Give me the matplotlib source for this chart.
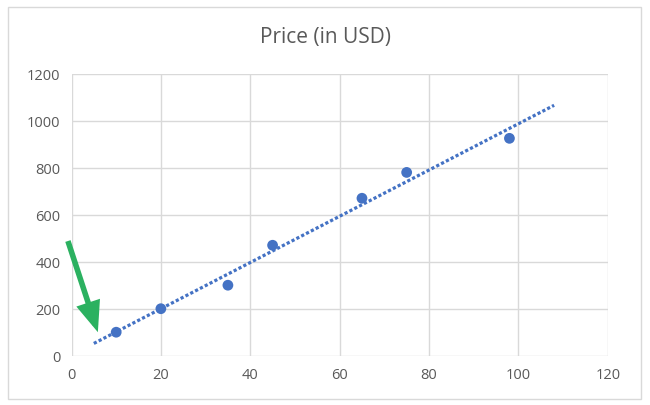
import numpy as np
import matplotlib
matplotlib.use("Agg")
import matplotlib.pyplot as plt
from matplotlib.patches import Rectangle

# data
x_vals = [10, 20, 35, 45, 65, 75, 98]
prices = [100, 200, 300, 470, 670, 780, 925]
x_ticks = [0, 20, 40, 60, 80, 100, 120]
y_ticks = [0, 200, 400, 600, 800, 1000, 1200]
title = "Price (in USD)"

blue = "#4472C4"
grey_txt = "#595959"
grid_col = "#D9D9D9"

plt.rcParams['font.family'] = ['Open Sans', 'DejaVu Sans']

fig = plt.figure(figsize=(6.5, 4.06), dpi=100)
ax = fig.add_axes([0.110, 0.1214, 0.825, 0.6946])

# linear trendline, backward 5 / forward 10 like the Excel one
slope, icpt = np.polyfit(x_vals, prices, 1)
tx = np.array([min(x_vals) - 5, max(x_vals) + 10])
ax.plot(tx, slope * tx + icpt, color=blue, lw=2.3, linestyle=(0, (1, 0.7)), zorder=2)

ax.scatter(x_vals, prices, s=60, color=blue, zorder=3, edgecolors="none")

ax.set_xlim(0, 120)
ax.set_ylim(0, 1200)
ax.set_xticks(x_ticks)
ax.set_yticks(y_ticks)
ax.tick_params(length=0, labelsize=10.5, labelcolor=grey_txt, pad=8)
ax.grid(True, color=grid_col, lw=1)
ax.set_axisbelow(True)
for s in ax.spines.values():
    s.set_visible(False)

fig.text(0.5, 0.908, title, ha="center", va="center", fontsize=15, color=grey_txt)

# green arrow pointing at the start of the trendline
ax.annotate("", xy=(5.9, 100), xytext=(-0.8, 488), annotation_clip=False,
            arrowprops=dict(arrowstyle="-|>,head_width=0.6,head_length=1.5",
                            color="#2BB160", lw=4, shrinkA=0, shrinkB=0,
                            joinstyle="miter", capstyle="butt"))

# chart border
fig.patches.append(Rectangle((8 / 650, 6 / 406), 633 / 650, 392 / 406, transform=fig.transFigure,
                             fill=False, edgecolor="#D9D9D9", lw=1))

fig.savefig("out.png", dpi=100)
